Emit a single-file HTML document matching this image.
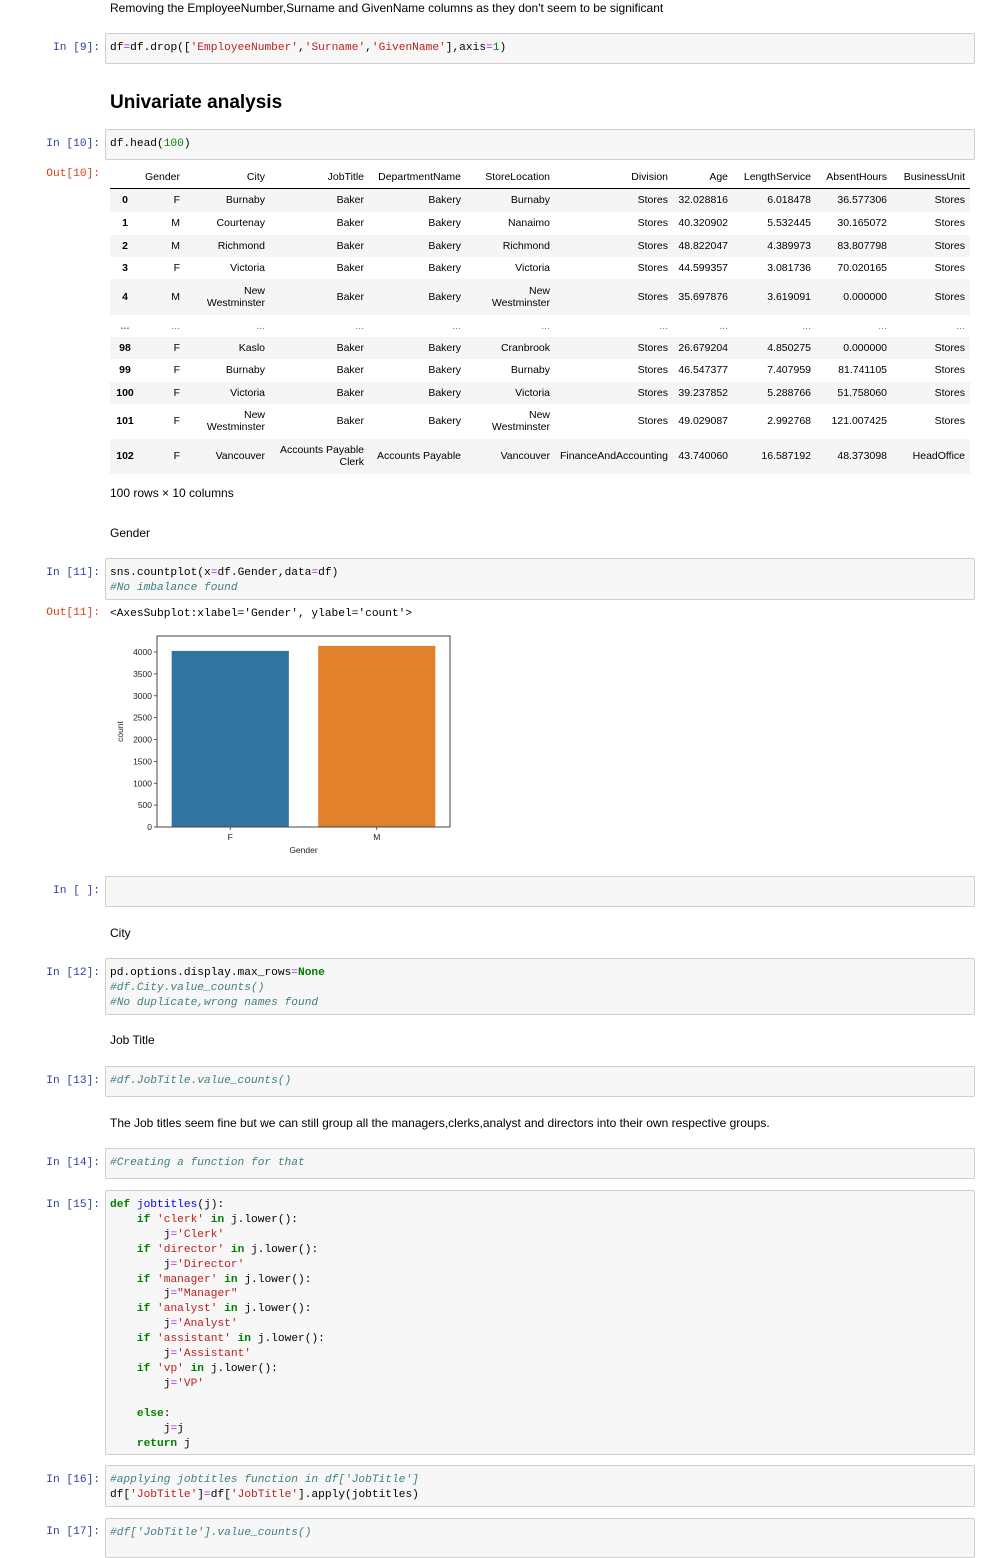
<!DOCTYPE html>
<html><head><meta charset="utf-8">
<style>
body{margin:0;width:990px;height:1533px;background:#fff;position:relative;overflow:hidden;font-family:"Liberation Sans",Arial,sans-serif;color:#000}
.abs{position:absolute}
.prompt{position:absolute;font-family:"Liberation Mono",monospace;font-size:11.2px;text-align:right;width:100px;left:0;margin-top:2px}
.in{color:#303f9f}.out{color:#d84315}
.cell{position:absolute;left:105px;width:870px;background:#f7f7f7;border:1px solid #cfcfcf;border-radius:2px;box-sizing:border-box}
.code{position:absolute;left:110px;font-family:"Liberation Mono",monospace;font-size:11.2px;line-height:14.9px;white-space:pre;color:#000;margin-top:2px}
.txt{position:absolute;left:110px;font-size:12px;margin-top:1px}
.s{color:#ba2121}.k{color:#008000;font-weight:bold}.c{color:#408080;font-style:italic}.o{color:#aa22ff}.f{color:#0000ff}.n{color:#080}
table{border-collapse:collapse;font-size:10.5px;position:absolute;left:110px;top:166px;width:860px;table-layout:fixed}
td,th{text-align:right;padding:0 5px;line-height:12px;white-space:nowrap;overflow:visible}
th{font-weight:bold}
thead th{font-weight:normal;height:22px;border-bottom:1px solid #000}
tbody tr:nth-child(odd){background:#f5f5f5}
tbody th{text-align:center}
</style></head><body>
<div class="txt" style="top:0px">Removing the EmployeeNumber,Surname and GivenName columns as they don't seem to be significant</div>

<div class="prompt in" style="top:40px">In [9]:</div>
<div class="cell" style="top:33px;height:31px"></div>
<div class="code" style="top:39px">df<span class="o">=</span>df.drop([<span class="s">'EmployeeNumber'</span>,<span class="s">'Surname'</span>,<span class="s">'GivenName'</span>],axis<span class="o">=</span><span class="n">1</span>)</div>

<div class="abs" style="left:110px;top:92px;font-size:19px;font-weight:bold">Univariate analysis</div>

<div class="prompt in" style="top:136px">In [10]:</div>
<div class="cell" style="top:129px;height:31px"></div>
<div class="code" style="top:135px">df.head(<span class="n">100</span>)</div>
<div class="prompt out" style="top:166px">Out[10]:</div>

<table>
<colgroup><col style="width:30px"><col style="width:45px"><col style="width:85px"><col style="width:99px"><col style="width:97px"><col style="width:89px"><col style="width:118px"><col style="width:60px"><col style="width:83px"><col style="width:76px"><col style="width:78px"></colgroup>
<thead><tr><th></th><th>Gender</th><th>City</th><th>JobTitle</th><th>DepartmentName</th><th>StoreLocation</th><th>Division</th><th>Age</th><th>LengthService</th><th>AbsentHours</th><th>BusinessUnit</th></tr></thead>
<tbody>
<tr style="height:23px"><th>0</th><td>F</td><td>Burnaby</td><td>Baker</td><td>Bakery</td><td>Burnaby</td><td>Stores</td><td>32.028816</td><td>6.018478</td><td>36.577306</td><td>Stores</td></tr>
<tr style="height:23px"><th>1</th><td>M</td><td>Courtenay</td><td>Baker</td><td>Bakery</td><td>Nanaimo</td><td>Stores</td><td>40.320902</td><td>5.532445</td><td>30.165072</td><td>Stores</td></tr>
<tr style="height:22px"><th>2</th><td>M</td><td>Richmond</td><td>Baker</td><td>Bakery</td><td>Richmond</td><td>Stores</td><td>48.822047</td><td>4.389973</td><td>83.807798</td><td>Stores</td></tr>
<tr style="height:22px;background:#fff"><th>3</th><td>F</td><td>Victoria</td><td>Baker</td><td>Bakery</td><td>Victoria</td><td>Stores</td><td>44.599357</td><td>3.081736</td><td>70.020165</td><td>Stores</td></tr>
<tr style="height:36px;background:#f5f5f5"><th>4</th><td>M</td><td>New<br>Westminster</td><td>Baker</td><td>Bakery</td><td>New<br>Westminster</td><td>Stores</td><td>35.697876</td><td>3.619091</td><td>0.000000</td><td>Stores</td></tr>
<tr style="height:22px;background:#fff;color:#777"><th>...</th><td>...</td><td>...</td><td>...</td><td>...</td><td>...</td><td>...</td><td>...</td><td>...</td><td>...</td><td>...</td></tr>
<tr style="height:22px;background:#f5f5f5"><th>98</th><td>F</td><td>Kaslo</td><td>Baker</td><td>Bakery</td><td>Cranbrook</td><td>Stores</td><td>26.679204</td><td>4.850275</td><td>0.000000</td><td>Stores</td></tr>
<tr style="height:23px;background:#fff"><th>99</th><td>F</td><td>Burnaby</td><td>Baker</td><td>Bakery</td><td>Burnaby</td><td>Stores</td><td>46.547377</td><td>7.407959</td><td>81.741105</td><td>Stores</td></tr>
<tr style="height:22px;background:#f5f5f5"><th>100</th><td>F</td><td>Victoria</td><td>Baker</td><td>Bakery</td><td>Victoria</td><td>Stores</td><td>39.237852</td><td>5.288766</td><td>51.758060</td><td>Stores</td></tr>
<tr style="height:35px;background:#fff"><th>101</th><td>F</td><td>New<br>Westminster</td><td>Baker</td><td>Bakery</td><td>New<br>Westminster</td><td>Stores</td><td>49.029087</td><td>2.992768</td><td>121.007425</td><td>Stores</td></tr>
<tr style="height:35px;background:#f5f5f5"><th>102</th><td>F</td><td>Vancouver</td><td>Accounts Payable<br>Clerk</td><td>Accounts Payable</td><td>Vancouver</td><td>FinanceAndAccounting</td><td>43.740060</td><td>16.587192</td><td>48.373098</td><td>HeadOffice</td></tr>
</tbody></table>

<div class="txt" style="top:485px">100 rows × 10 columns</div>
<div class="txt" style="top:525px">Gender</div>

<div class="prompt in" style="top:565px">In [11]:</div>
<div class="cell" style="top:558px;height:42px"></div>
<div class="code" style="top:564px">sns.countplot(x<span class="o">=</span>df.Gender,data<span class="o">=</span>df)
<span class="c">#No imbalance found</span></div>
<div class="prompt out" style="top:605px">Out[11]:</div>
<div class="code" style="top:605px">&lt;AxesSubplot:xlabel='Gender', ylabel='count'&gt;</div>

<svg class="abs" style="left:0;top:0" width="990" height="870" id="chart"></svg>

<div class="prompt in" style="top:883px">In [ ]:</div>
<div class="cell" style="top:876px;height:31px"></div>

<div class="txt" style="top:925px">City</div>
<div class="prompt in" style="top:965px">In [12]:</div>
<div class="cell" style="top:958px;height:57px"></div>
<div class="code" style="top:964px">pd.options.display.max_rows<span class="o">=</span><span class="k">None</span>
<span class="c">#df.City.value_counts()</span>
<span class="c">#No duplicate,wrong names found</span></div>

<div class="txt" style="top:1032px">Job Title</div>
<div class="prompt in" style="top:1073px">In [13]:</div>
<div class="cell" style="top:1066px;height:31px"></div>
<div class="code" style="top:1072px"><span class="c">#df.JobTitle.value_counts()</span></div>

<div class="txt" style="top:1115px">The Job titles seem fine but we can still group all the managers,clerks,analyst and directors into their own respective groups.</div>

<div class="prompt in" style="top:1155px">In [14]:</div>
<div class="cell" style="top:1148px;height:31px"></div>
<div class="code" style="top:1154px"><span class="c">#Creating a function for that</span></div>

<div class="prompt in" style="top:1197px">In [15]:</div>
<div class="cell" style="top:1190px;height:265px"></div>
<div class="code" style="top:1196px"><span class="k">def</span> <span class="f">jobtitles</span>(j):
    <span class="k">if</span> <span class="s">'clerk'</span> <span class="k">in</span> j.lower():
        j<span class="o">=</span><span class="s">'Clerk'</span>
    <span class="k">if</span> <span class="s">'director'</span> <span class="k">in</span> j.lower():
        j<span class="o">=</span><span class="s">'Director'</span>
    <span class="k">if</span> <span class="s">'manager'</span> <span class="k">in</span> j.lower():
        j<span class="o">=</span><span class="s">"Manager"</span>
    <span class="k">if</span> <span class="s">'analyst'</span> <span class="k">in</span> j.lower():
        j<span class="o">=</span><span class="s">'Analyst'</span>
    <span class="k">if</span> <span class="s">'assistant'</span> <span class="k">in</span> j.lower():
        j<span class="o">=</span><span class="s">'Assistant'</span>
    <span class="k">if</span> <span class="s">'vp'</span> <span class="k">in</span> j.lower():
        j<span class="o">=</span><span class="s">'VP'</span>

    <span class="k">else</span>:
        j<span class="o">=</span>j
    <span class="k">return</span> j</div>

<div class="prompt in" style="top:1472px">In [16]:</div>
<div class="cell" style="top:1465px;height:42px"></div>
<div class="code" style="top:1471px"><span class="c">#applying jobtitles function in df['JobTitle']</span>
df[<span class="s">'JobTitle'</span>]<span class="o">=</span>df[<span class="s">'JobTitle'</span>].apply(jobtitles)</div>

<div class="prompt in" style="top:1524px">In [17]:</div>
<div class="cell" style="top:1518px;height:40px"></div>
<div class="code" style="top:1524px"><span class="c">#df['JobTitle'].value_counts()</span></div>

<script>
const categories=['F','M'];
const counts=[4025,4140];
const yTicks=[0,500,1000,1500,2000,2500,3000,3500,4000];
const colors=['#3274a1','#e1812c'];
const svg=document.getElementById('chart');
const NS='http://www.w3.org/2000/svg';
const L=157,R=450,T=636,B=827;
const y=v=>B-v*(175/4000);
const band=(R-L)/categories.length, bw=band*0.8;
const x=i=>L+band*i+band/2;
function mk(t,a){const e=document.createElementNS(NS,t);for(const k in a)e.setAttribute(k,a[k]);svg.appendChild(e);return e;}
yTicks.forEach(t=>{
  const tk=mk('line',{x1:L-3,x2:L,y1:y(t),y2:y(t),stroke:'#333','stroke-width':0.8});
  
  
  const tx=mk('text',{x:L-5,y:y(t)+3,'text-anchor':'end','font-size':'8.5px','font-family':'Liberation Sans, sans-serif',fill:'#222'});
  tx.textContent=t;
  
  
});
categories.forEach((c,i)=>{
  const r=mk('rect',{x:x(i)-bw/2,y:y(counts[i]),width:bw,height:B-y(counts[i]),fill:colors[i]});
  
  
  mk('line',{x1:x(i),x2:x(i),y1:B,y2:B+3,stroke:'#333','stroke-width':0.8});
  const tx=mk('text',{x:x(i),y:B+13,'text-anchor':'middle','font-size':'8.5px','font-family':'Liberation Sans, sans-serif',fill:'#222'});
  tx.textContent=c;
  
  
});
const fr=mk('rect',{x:L,y:T,width:R-L,height:B-T,fill:'none',stroke:'#444','stroke-width':1});


const xt=mk('text',{x:(L+R)/2,y:853,'text-anchor':'middle','font-size':'8.5px','font-family':'Liberation Sans, sans-serif',fill:'#222'});
xt.textContent='Gender';


const yt=mk('text',{x:123,y:(T+B)/2,'text-anchor':'middle','font-size':'8.5px','font-family':'Liberation Sans, sans-serif',fill:'#222',transform:'rotate(-90 123 '+((T+B)/2)+')'});
yt.textContent='count';


</script>
</body></html>
